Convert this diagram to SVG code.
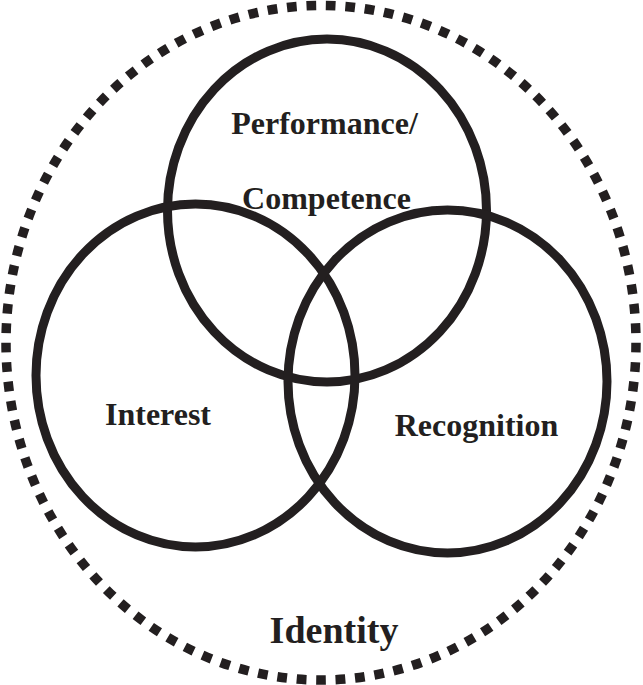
<svg xmlns="http://www.w3.org/2000/svg" width="643" height="685" viewBox="0 0 643 685">
  <style>
    .ring { fill: none; stroke: #231f20; stroke-width: 9; }
    .outer { fill: none; stroke: #231f20; stroke-width: 9.5; stroke-dasharray: 1 1; }
    .lbl { font-family: "Liberation Serif", "Times New Roman", serif; font-weight: bold; fill: #231f20; text-anchor: middle; font-size: 32px; }
    .big { font-size: 38px; }
  </style>
  <rect width="643" height="685" fill="#ffffff"/>
  <g id="identity">
    <ellipse class="outer" cx="321" cy="342.75" rx="315" ry="337.25" pathLength="210"/>
    <text class="lbl big" x="334" y="643">Identity</text>
  </g>
  <g id="performance">
    <ellipse class="ring" cx="327" cy="210.5" rx="159.5" ry="171.5"/>
    <text class="lbl" x="324.5" y="134">Performance/</text>
    <text class="lbl" x="326.5" y="209">Competence</text>
  </g>
  <g id="interest">
    <ellipse class="ring" cx="195.5" cy="375.5" rx="159.5" ry="171.5"/>
    <text class="lbl" x="158" y="425">Interest</text>
  </g>
  <g id="recognition">
    <ellipse class="ring" cx="447.5" cy="381.5" rx="159.5" ry="171.5"/>
    <text class="lbl" x="476.5" y="436">Recognition</text>
  </g>
  <g id="connectors"></g>
</svg>
